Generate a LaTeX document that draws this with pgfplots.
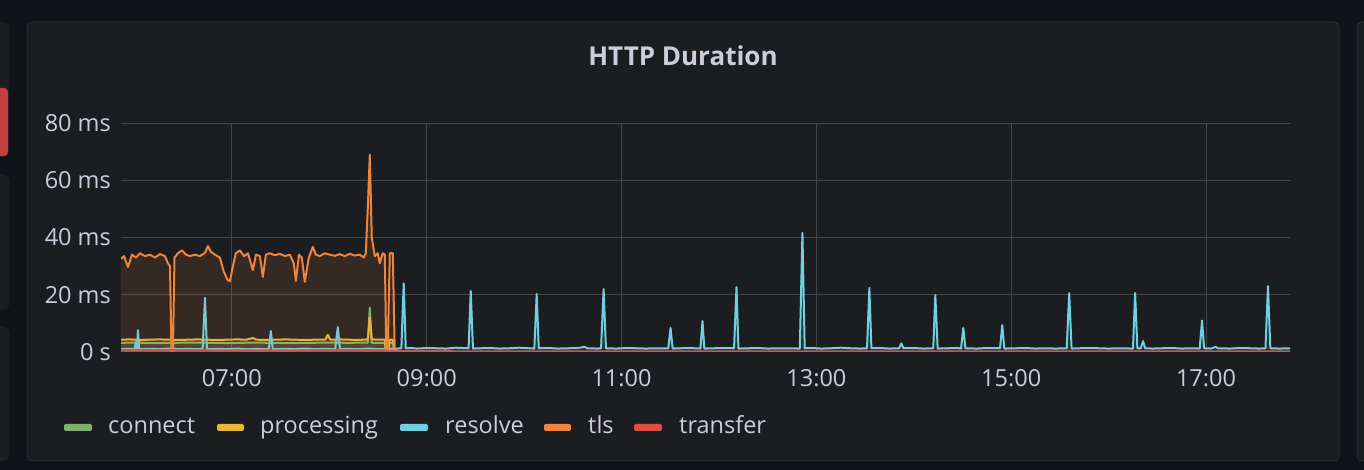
\documentclass[border=0pt]{standalone}
\usepackage{fontspec}
\setmainfont{Open Sans}
\usepackage{pgfplots}
\usepackage{pgfplotstable}
\pgfplotsset{compat=1.18}

\definecolor{canvas}{HTML}{111217}
\definecolor{panel}{HTML}{1C1D21}
\definecolor{panelborder}{HTML}{2A2B30}
\definecolor{gridc}{HTML}{45464B}
\definecolor{txt}{HTML}{CCCCDC}
\definecolor{cconnect}{HTML}{7EB26D}
\definecolor{cprocessing}{HTML}{EAB839}
\definecolor{cresolve}{HTML}{6ED0E0}
\definecolor{ctls}{HTML}{EF843C}
\definecolor{ctransfer}{HTML}{E24D42}
\definecolor{alertred}{HTML}{C4403F}

% time in hours of the day, value in ms
\pgfplotstableread{
t v
5.862 3.2
6.000 3.3
6.200 3.1
6.400 3.2
6.600 3.3
6.800 3.2
7.000 3.1
7.200 3.3
7.400 3.2
7.600 3.1
7.800 3.2
8.000 3.3
8.200 3.2
8.395 3.3
8.416 15.5
8.436 3.2
8.570 3.2
8.585 0
8.600 0
8.621 3.2
8.652 3.2
8.672 0
8.693 0
}\connect

\pgfplotstableread{
t v
5.862 4.3
5.950 4.4
6.050 4.2
6.150 4.3
6.250 4.4
6.350 4.3
6.450 4.2
6.550 4.3
6.650 4.4
6.750 4.3
6.850 4.2
6.950 4.3
7.050 4.4
7.150 4.3
7.216 4.9
7.250 4.3
7.350 4.2
7.450 4.3
7.550 4.4
7.650 4.3
7.750 4.2
7.850 4.3
7.960 4.3
7.985 6.0
8.010 4.3
8.100 4.4
8.200 4.3
8.300 4.2
8.395 4.4
8.416 12.0
8.436 4.4
8.520 4.3
8.570 4.3
8.585 0
8.600 0
8.621 4.3
8.652 4.3
8.672 0
8.693 0
}\processing

\pgfplotstableread{
t v
5.862 1.0
5.950 1.1
6.000 1.0
6.015 3.5
6.025 1.2
6.036 7.6
6.050 1.0
6.150 1.1
6.250 1.0
6.350 1.2
6.450 1.0
6.550 1.1
6.650 1.0
6.700 1.1
6.724 18.9
6.745 1.0
6.850 1.1
6.950 1.0
7.050 1.2
7.150 1.0
7.250 1.1
7.350 1.0
7.380 1.1
7.400 7.3
7.420 1.0
7.550 1.1
7.650 1.0
7.750 1.2
7.850 1.0
7.950 1.1
8.060 1.0
8.088 8.7
8.110 1.0
8.200 1.1
8.300 1.0
8.400 1.2
8.500 1.0
8.600 1.1
8.700 1.2
8.740 1.3
8.764 24.0
8.785 1.3
8.850 1.4
8.900 1.2
9.000 1.4
9.100 1.3
9.200 1.2
9.300 1.5
9.430 1.3
9.452 21.3
9.475 1.2
9.550 1.3
9.650 1.4
9.750 1.2
9.850 1.3
9.950 1.5
10.050 1.3
10.105 1.2
10.129 20.3
10.150 1.3
10.250 1.4
10.350 1.2
10.450 1.3
10.550 1.4
10.620 1.8
10.650 1.3
10.750 1.2
10.790 1.3
10.816 22.0
10.840 1.3
10.950 1.2
11.050 1.4
11.150 1.3
11.250 1.2
11.350 1.3
11.480 1.3
11.503 8.4
11.525 1.2
11.600 1.3
11.700 1.4
11.810 1.2
11.831 10.8
11.850 1.2
11.950 1.3
12.050 1.4
12.155 1.3
12.180 22.7
12.200 1.2
12.300 1.3
12.400 1.4
12.500 1.2
12.600 1.3
12.700 1.3
12.830 1.2
12.857 41.6
12.880 1.3
12.950 1.4
13.050 1.2
13.150 1.3
13.250 1.5
13.350 1.3
13.450 1.2
13.520 1.3
13.544 22.4
13.565 1.3
13.650 1.4
13.750 1.2
13.850 1.3
13.872 3.0
13.895 1.3
14.000 1.4
14.100 1.2
14.200 1.3
14.221 19.9
14.245 1.2
14.350 1.3
14.450 1.4
14.485 1.2
14.508 8.4
14.530 1.3
14.650 1.2
14.750 1.4
14.885 1.3
14.908 9.4
14.930 1.2
15.050 1.3
15.150 1.4
15.250 1.2
15.350 1.3
15.450 1.2
15.570 1.3
15.595 20.6
15.620 1.2
15.700 1.3
15.800 1.4
15.900 1.3
16.000 1.2
16.100 1.3
16.250 1.2
16.272 20.6
16.295 1.3
16.330 1.3
16.354 3.8
16.375 1.3
16.450 1.2
16.550 1.3
16.650 1.4
16.750 1.2
16.850 1.3
16.935 1.2
16.959 11.0
16.980 1.3
17.050 1.2
17.100 1.8
17.120 1.3
17.250 1.2
17.350 1.4
17.450 1.3
17.550 1.2
17.610 1.3
17.636 23.0
17.660 1.3
17.750 1.2
17.862 1.3
}\resolve

\pgfplotstableread{
t v
5.862 32.5
5.893 33.5
5.934 29.7
5.975 34.0
6.016 33.0
6.057 34.5
6.108 33.5
6.159 34.0
6.211 33.0
6.262 34.2
6.313 33.5
6.344 31.0
6.365 30.0
6.380 0
6.395 0
6.411 33.0
6.447 34.5
6.488 35.5
6.529 34.0
6.570 33.5
6.621 34.0
6.672 33.5
6.724 34.6
6.754 37.0
6.785 35.0
6.826 34.0
6.877 33.0
6.918 28.0
6.959 25.0
6.980 24.8
7.011 30.0
7.041 34.5
7.083 35.5
7.124 33.5
7.165 34.5
7.216 28.6
7.247 34.0
7.288 33.5
7.318 26.2
7.349 34.0
7.390 34.5
7.441 33.8
7.493 34.3
7.544 33.5
7.595 34.0
7.636 31.0
7.657 24.8
7.688 34.0
7.718 33.0
7.749 24.5
7.790 33.0
7.831 36.7
7.862 34.0
7.903 33.5
7.954 34.5
8.006 34.0
8.057 33.6
8.108 34.2
8.159 33.5
8.211 34.3
8.262 33.7
8.313 34.0
8.354 33.0
8.375 34.5
8.395 50.0
8.416 69.0
8.436 40.0
8.467 33.5
8.498 34.5
8.518 31.0
8.549 34.5
8.570 34.0
8.585 0
8.600 0
8.621 34.5
8.652 34.5
8.672 0
8.693 0
}\tls

\pgfplotstableread{
t v
5.862 0.6
6.500 0.6
7.200 0.5
8.000 0.6
8.570 0.6
8.600 0.3
9.500 0.2
11.000 0.2
13.000 0.2
15.000 0.2
17.862 0.2
}\transfer

\begin{document}
\begin{tikzpicture}[x=1pt,y=1pt]
\useasboundingbox (0,0) rectangle (1364,470);
\begin{scope}
\clip (0,0) rectangle (1364,470);
\fill[canvas] (0,0) rectangle (1364,470);
% neighbouring panels
\fill[panel,rounded corners=5pt] (-30,470-157) rectangle (9,470-22);
\fill[alertred,rounded corners=4pt] (-30,470-156) rectangle (8,470-88);
\fill[panel,rounded corners=5pt] (-30,470-310) rectangle (9,470-175);
\fill[panel,rounded corners=5pt] (-30,470-461) rectangle (9,470-327);
\filldraw[fill=panel,draw=panelborder,line width=1pt,rounded corners=5pt] (1357,470-461) rectangle (1400,470-22);
% main panel
\filldraw[fill=panel,draw=panelborder,line width=1pt,rounded corners=5pt] (27,470-461) rectangle (1339,470-22);
\end{scope}

\node[text=txt,font=\fontsize{26}{31}\selectfont\bfseries] at (683,470-56) {HTTP Duration};

\begin{axis}[
  at={(121pt,118pt)}, anchor=south west,
  scale only axis, width=1169pt, height=229pt,
  xmin=5.862, xmax=17.862, ymin=0, ymax=80,
  xtick={7,9,11,13,15,17},
  xticklabels={07:00,09:00,11:00,13:00,15:00,17:00},
  ytick={0,20,40,60,80},
  yticklabels={0 s,20 ms,40 ms,60 ms,80 ms},
  /pgf/number format/assume math mode=true,
  axis line style={draw=none},
  major tick length=0pt,
  grid=major,
  major grid style={draw=gridc,line width=1pt},
  tick label style={text=txt,font=\fontsize{23.5}{28}\selectfont},
  yticklabel style={inner sep=0pt,anchor=east,xshift=-10pt},
  xticklabel style={inner sep=0pt,anchor=north,yshift=-17pt},
  every axis plot/.append style={line width=2pt,line join=round},
]
\addplot[draw=none,fill=cconnect,fill opacity=0.12,forget plot] table[x=t,y=v]{\connect} \closedcycle;
\addplot[cconnect] table[x=t,y=v]{\connect};
\addplot[draw=none,fill=cprocessing,fill opacity=0.12,forget plot] table[x=t,y=v]{\processing} \closedcycle;
\addplot[cprocessing] table[x=t,y=v]{\processing};
\addplot[draw=none,fill=cresolve,fill opacity=0.1,forget plot] table[x=t,y=v]{\resolve} \closedcycle;
\addplot[cresolve] table[x=t,y=v]{\resolve};
\addplot[draw=none,fill=ctls,fill opacity=0.12,forget plot] table[x=t,y=v]{\tls} \closedcycle;
\addplot[ctls] table[x=t,y=v]{\tls};
\addplot[ctransfer,line width=2.2pt] table[x=t,y=v]{\transfer};
\end{axis}

% legend
\begin{scope}[rounded corners=2pt]
\fill[cconnect] (64,39) rectangle (92,46);
\fill[cprocessing] (217,39) rectangle (244,46);
\fill[cresolve] (400,39) rectangle (428,46);
\fill[ctls] (544,39) rectangle (571,46);
\fill[ctransfer] (634,39) rectangle (662,46);
\end{scope}
\begin{scope}[every node/.style={text=txt,font=\fontsize{23.5}{28}\selectfont,inner sep=0pt,anchor=base west}]
\node at (108,36) {connect};
\node at (260,36) {processing};
\node at (445,36) {resolve};
\node at (588,36) {tls};
\node at (679,36) {transfer};
\end{scope}
\end{tikzpicture}
\end{document}
